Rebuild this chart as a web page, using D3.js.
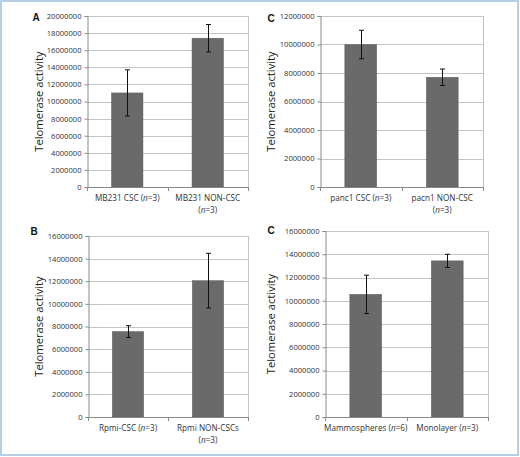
<!DOCTYPE html>
<html>
<head>
<meta charset="utf-8">
<script src="https://cdn.jsdelivr.net/npm/d3@7"></script>
<style>
  body { margin: 0; background: #fff; }
  svg { display: block; }
  .tick text { font-family: "Open Sans", sans-serif; font-size: 7.6px; fill: #333; }
  .ytitle { font-family: "Open Sans", sans-serif; font-size: 11.2px; fill: #222; }
  .xlab { font-family: "Open Sans", sans-serif; font-size: 8.2px; fill: #333; }
  .plabel { font-family: "Liberation Sans", Arial, sans-serif; font-size: 10px; font-weight: bold; fill: #111; }
</style>
</head>
<body>
<div id="chart"></div>
<script>
'use strict';

// panel A - MB231
const labelsA = [["MB231 CSC (", "n", "=3)"], ["MB231 NON-CSC", "(", "n", "=3)"]];
const valuesA = [11000000, 17400000];
const errorsA = [2700000, 1600000];
const ticksA = d3.range(0, 20000001, 2000000);

// panel C (top) - panc1
const labelsC = [["panc1 CSC (", "n", "=3)"], ["pacn1 NON-CSC", "(", "n", "=3)"]];
const valuesC = [10000000, 7700000];
const errorsC = [1000000, 580000];
const ticksC = d3.range(0, 12000001, 2000000);

// panel B - Rpmi
const labelsB = [["Rpmi-CSC (", "n", "=3)"], ["Rpmi NON-CSCs", "(", "n", "=3)"]];
const valuesB = [7550000, 12050000];
const errorsB = [520000, 2420000];
const ticksB = d3.range(0, 16000001, 2000000);

// panel C (bottom) - mammospheres
const labelsD = [["Mammospheres (", "n", "=6)"], ["Monolayer (", "n", "=3)"]];
const valuesD = [10550000, 13430000];
const errorsD = [1650000, 570000];
const ticksD = d3.range(0, 16000001, 2000000);

const W = 520, H = 457;

const svg = d3.select('#chart').append('svg')
    .attr('width', W)
    .attr('height', H);

svg.append('rect')
    .attr('x', 1).attr('y', 1)
    .attr('width', 517).attr('height', 454)
    .attr('fill', 'none')
    .attr('stroke', '#9cc0dc')
    .attr('stroke-width', 1.5);

// draws one bar panel; box = [left, top, right, bottom] of plot area
function drawPanel(letter, labels, values, errors, ticks, box, titleX, letterPos) {
    const [l, t, r, b] = box;
    const names = labels.map((d, i) => 'c' + i);
    const data = values.map((v, i) => ({k: names[i], v: v, e: errors[i], lab: labels[i]}));

    const x = d3.scaleBand().domain(names).range([l, r]).paddingInner(0).paddingOuter(0);
    const y = d3.scaleLinear().domain([0, d3.max(ticks)]).range([b, t]);

    const g = svg.append('g');

    // gridlines
    g.selectAll('line.grid').data(ticks.slice(1))
        .join('line')
        .classed('grid', true)
        .attr('x1', l).attr('x2', r)
        .attr('y1', d => Math.round(y(d)) + 0.5).attr('y2', d => Math.round(y(d)) + 0.5)
        .attr('stroke', '#c4c4c4');

    // right border of plot
    g.append('line')
        .attr('x1', r + 0.5).attr('x2', r + 0.5)
        .attr('y1', t).attr('y2', b)
        .attr('stroke', '#c4c4c4');

    // bars
    const bw = x.bandwidth() * 0.39;
    g.selectAll('rect.bar').data(data)
        .join('rect')
        .classed('bar', true)
        .attr('x', d => x(d.k) + (x.bandwidth() - bw) / 2)
        .attr('width', bw)
        .attr('y', d => y(d.v))
        .attr('height', d => b - y(d.v))
        .attr('fill', '#6a6a6a')
        .attr('stroke', '#5a5a5a')
        .attr('stroke-width', 0.5);

    // error bars
    const eb = g.selectAll('g.err').data(data).join('g').classed('err', true)
        .attr('transform', d => `translate(${Math.round(x(d.k) + x.bandwidth() / 2) + 0.5},0)`);
    eb.append('line')
        .attr('y1', d => y(d.v + d.e)).attr('y2', d => y(d.v - d.e))
        .attr('stroke', '#111').attr('stroke-width', 1);
    eb.append('line')
        .attr('x1', -2.5).attr('x2', 2.5)
        .attr('y1', d => y(d.v + d.e)).attr('y2', d => y(d.v + d.e))
        .attr('stroke', '#111');
    eb.append('line')
        .attr('x1', -2.5).attr('x2', 2.5)
        .attr('y1', d => y(d.v - d.e)).attr('y2', d => y(d.v - d.e))
        .attr('stroke', '#111');

    // y axis
    const ay = g.append('g')
        .attr('transform', `translate(${l + 0.5},0)`)
        .call(d3.axisLeft(y).tickValues(ticks).tickFormat(d3.format('d')).tickSize(3).tickPadding(3));
    ay.selectAll('path, line').attr('stroke', '#8a8a8a');

    // x axis: ticks at category boundaries
    g.append('line')
        .attr('x1', l).attr('x2', r)
        .attr('y1', Math.round(b) + 0.5).attr('y2', Math.round(b) + 0.5)
        .attr('stroke', '#8a8a8a');
    g.selectAll('line.xt').data([l, (l + r) / 2, r])
        .join('line')
        .classed('xt', true)
        .attr('x1', d => Math.round(d) + 0.5).attr('x2', d => Math.round(d) + 0.5)
        .attr('y1', b).attr('y2', b + 4)
        .attr('stroke', '#8a8a8a');

    // category labels, "n" in italics, optional second line
    data.forEach(d => {
        const cx = x(d.k) + x.bandwidth() / 2;
        const lab = d.lab;
        if (lab.length === 3) {
            const tx = g.append('text').classed('xlab', true)
                .attr('x', cx).attr('y', b + 14).attr('text-anchor', 'middle');
            tx.append('tspan').text(lab[0]);
            tx.append('tspan').attr('font-style', 'italic').text(lab[1]);
            tx.append('tspan').text(lab[2]);
        } else {
            g.append('text').classed('xlab', true)
                .attr('x', cx).attr('y', b + 14).attr('text-anchor', 'middle')
                .text(lab[0]);
            const tx = g.append('text').classed('xlab', true)
                .attr('x', cx).attr('y', b + 26).attr('text-anchor', 'middle');
            tx.append('tspan').text(lab[1]);
            tx.append('tspan').attr('font-style', 'italic').text(lab[2]);
            tx.append('tspan').text(lab[3]);
        }
    });

    // y title
    g.append('text').classed('ytitle', true)
        .attr('text-anchor', 'middle')
        .attr('transform', `translate(${titleX},${(t + b) / 2}) rotate(-90)`)
        .text('Telomerase activity');

    // panel letter
    g.append('text').classed('plabel', true)
        .attr('x', letterPos[0]).attr('y', letterPos[1])
        .attr('text-anchor', 'middle')
        .text(letter);
}

drawPanel('A', labelsA, valuesA, errorsA, ticksA, [87, 16, 248, 187], 43, [36, 21]);
drawPanel('C', labelsC, valuesC, errorsC, ticksC, [320, 16, 483, 187], 275, [271, 22]);
drawPanel('B', labelsB, valuesB, errorsB, ticksB, [88, 236, 248, 417], 43, [34, 235]);
drawPanel('C', labelsD, valuesD, errorsD, ticksD, [325, 231, 488, 417], 275, [271, 234]);
</script>
</body>
</html>
